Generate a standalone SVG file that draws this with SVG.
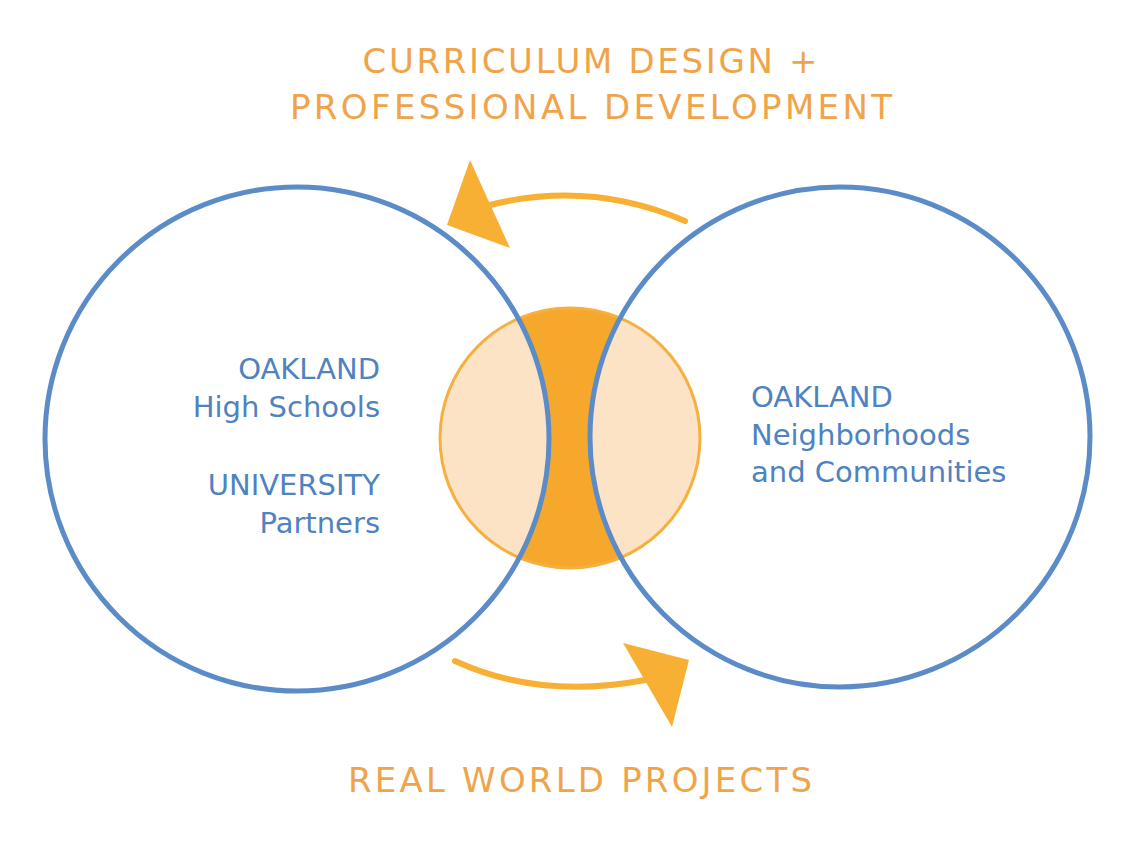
<svg xmlns="http://www.w3.org/2000/svg" width="1136" height="852" viewBox="0 0 1136 852">
<style>
.big{fill:none;stroke:#5b8cc8;stroke-width:5}
.t{font-family:"DejaVu Sans","Liberation Sans",sans-serif;fill:#4f82c0;font-size:29px}
.h{font-family:"DejaVu Sans","Liberation Sans",sans-serif;fill:#f0a44a;font-size:34px}
.arc{fill:none;stroke:#f7b033;stroke-width:6;stroke-linecap:round}
.head{fill:#f7b033}
</style>
<defs>
<clipPath id="mid"><circle cx="570" cy="438" r="130"/></clipPath>
</defs>
<g id="center">
<circle cx="570" cy="438" r="130" fill="#f6a82c"/>
<g clip-path="url(#mid)">
<circle cx="297" cy="439" r="252" fill="#fde3c6"/>
<circle cx="840" cy="437" r="250" fill="#fde3c6"/>
</g>
<circle cx="570" cy="438" r="130" fill="none" stroke="#f5b040" stroke-width="3"/>
</g>
<g id="left">
<circle class="big" cx="297" cy="439" r="252"/>
<text class="t" x="380" y="379" text-anchor="end">OAKLAND</text>
<text class="t" x="380" y="417" text-anchor="end">High Schools</text>
<text class="t" x="380" y="495" text-anchor="end">UNIVERSITY</text>
<text class="t" x="380" y="533" text-anchor="end">Partners</text>
</g>
<g id="right">
<circle class="big" cx="840" cy="437" r="250"/>
<text class="t" x="751" y="407">OAKLAND</text>
<text class="t" x="751" y="445">Neighborhoods</text>
<text class="t" x="751" y="482">and Communities</text>
</g>
<g id="connectors">
<path class="arc" d="M685,221 Q590,180 490,205"/>
<polygon class="head" points="470,160 447,225 510,248"/>
<path class="arc" d="M455,661 Q540,700 645,680"/>
<polygon class="head" points="623,643 689,660 672,727"/>
</g>
<g id="labels">
<text class="h" x="590" y="73" text-anchor="middle" textLength="455">CURRICULUM DESIGN +</text>
<text class="h" x="591" y="119" text-anchor="middle" textLength="602">PROFESSIONAL DEVELOPMENT</text>
<text class="h" x="580" y="792" text-anchor="middle" textLength="464">REAL WORLD PROJECTS</text>
</g>
</svg>
